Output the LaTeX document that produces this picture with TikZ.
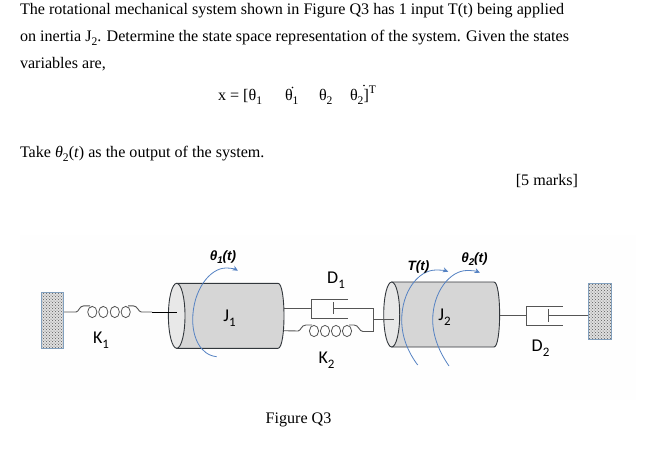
\documentclass[tikz,border=0pt]{standalone}
\usepackage{fontspec}
\setmainfont{Liberation Serif}
\newfontfamily\lblfont{Carlito}
\newfontfamily\symfont{Liberation Sans}
\usetikzlibrary{patterns,arrows.meta}
\definecolor{cylfill}{RGB}{214,214,214}
\definecolor{capfill}{RGB}{232,232,232}
\definecolor{cyledge}{RGB}{50,55,60}
\definecolor{wallblue}{RGB}{130,160,190}
\definecolor{arrowblue}{RGB}{85,130,195}
\definecolor{mech}{RGB}{85,85,85}
\definecolor{bgtint}{RGB}{254,254,254}
\newcommand{\sbs}[1]{\raisebox{-0.28em}{\scalebox{0.72}{#1}}}
\tikzset{
  body/.style={anchor=base west,inner sep=0pt,outer sep=0pt,font=\fontsize{16.1}{18}\selectfont},
  lbl/.style={inner sep=0pt,font=\lblfont\fontsize{18}{20}\selectfont},
  ang/.style={inner sep=0pt,font=\symfont\bfseries\itshape\fontsize{13.5}{15}\selectfont},
  wall/.style={draw=wallblue,line width=0.8pt,preaction={fill=gray!25},pattern=crosshatch dots,pattern color=black!65,minimum width=22.5pt,inner sep=0pt,anchor=north west},
  cyl/.style={draw=cyledge,line width=0.9pt,fill=cylfill},
  capend/.style={draw=cyledge,line width=0.9pt,fill=capfill},
  link/.style={draw=mech,line width=0.9pt},
  rot/.style={draw=arrowblue,line width=0.8pt,-{Stealth[length=5.5pt,width=5pt]}},
}
\begin{document}
\begin{tikzpicture}[x=1pt,y=-1pt]
\useasboundingbox (0,0) rectangle (669,448);
\fill[white] (0,0) rectangle (669,448);
\fill[bgtint] (20,235) rectangle (636,400);
% text
\node[body] (l1) at (20,14) {The rotational mechanical system shown in Figure Q3 has 1 input T(t) being applied};
\node[body] (l2) at (20,41) {on inertia J\sbs{2}. Determine the state space representation of the system. Given the states};
\node[body] (l3) at (20,68.5) {variables are,};
\node[body] (eqa) at (218,100) {x = [θ\sbs{1}};
\node[body] (eqb) at (285,100) {θ\sbs{1}};
\node[body] (eqc) at (319,100) {θ\sbs{2}};
\node[body] (eqd) at (350,100) {θ\sbs{2}]\raisebox{0.42em}{\scalebox{0.72}{T}}};
\fill[black] (292.5,87.5) circle[radius=0.85];
\fill[black] (364,85.5) circle[radius=0.85];
\node[body] (l4) at (20,157) {Take \textit{θ}\sbs{2}(\textit{t}) as the output of the system.};
\node[body,anchor=base east] (mk) at (578,185) {[5 marks]};
\node[body,anchor=base] (fig) at (298.5,423) {Figure Q3};
% walls
\node[wall,minimum height=56pt] (w1) at (40.7,292.3) {};
\node[wall,minimum height=56pt] (w2) at (588.3,283) {};
% cylinders
\path[cyl] (176.7,283.3) -- (278,283.3) .. controls (286,283.3) and (286,348.3) .. (278,348.3) -- (176.7,348.3) -- cycle;
\path[capend] (176.7,315.8) ellipse[x radius=8.3,y radius=32.5];
\path[cyl] (391.7,282) -- (494,282) .. controls (501.5,282) and (501.5,347) .. (494,347) -- (391.7,347) -- cycle;
\path[capend] (391.7,314.5) ellipse[x radius=8,y radius=32.5];
\coordinate (c1a) at (177,312);
\coordinate (c1b) at (284,308.3);
\coordinate (c1c) at (284,330.7);
\coordinate (c2a) at (394,319.3);
\coordinate (c2b) at (499.6,315.7);
% K1
\coordinate (s1a) at (76,312);
\coordinate (s1b) at (141.5,312);
\draw[link] (w1.east|-s1a) -- (s1a) .. controls (79,312) and (79,305.8) .. (84,305.8) -- (90,305.8);
\foreach \x in {92.3,103.3,114.8,125.7} \draw[mech,line width=0.8pt] (\x,312) ellipse[x radius=4.6,y radius=5.6];
\draw[link] (128,305.8) -- (133,305.8) .. controls (138,305.8) and (138,312) .. (s1b) -- (152,312);
\draw[black,line width=0.6pt] (152,312) -- (c1a);
% D1
\coordinate (d1j) at (373,308);
\draw[link] (c1b) -- (311.7,308.3);
\draw[link] (348,299) -- (311.7,299) -- (311.7,318.3) -- (348,318.3);
\draw[link] (333,302) -- (333,314);
\draw[link] (333,308) -- (d1j);
% K2
\coordinate (s2a) at (298,331);
\coordinate (s2b) at (363,331.5);
\coordinate (k2j) at (373,331.5);
\draw[link] (c1c) -- (s2a) .. controls (301,331) and (301,325) .. (306,325) -- (312,325);
\foreach \x in {314,325,336,347} \draw[mech,line width=0.8pt] (\x,331) ellipse[x radius=4.6,y radius=5.6];
\draw[link] (349,325) -- (354,325) .. controls (359,325) and (359,331.5) .. (s2b) -- (k2j);
\draw[link] (d1j) -- (k2j);
\draw[link] (373,319.3) -- (c2a);
% D2
\coordinate (d2a) at (526.7,315.7);
\draw[link] (c2b) -- (d2a);
\draw[link] (562.7,306.7) -- (526.7,306.7) -- (526.7,325.7) -- (562.7,325.7);
\draw[link] (548.3,309.3) -- (548.3,321.7);
\draw[link] (548.3,315.7) -- (w2.west|-d2a);
% rotation arrows
\coordinate (r1s) at (216.7,356.7); \coordinate (r1e) at (238,270.7);
\coordinate (r2s) at (417.7,365); \coordinate (r2e) at (448.3,271.7);
\coordinate (r3s) at (449,366); \coordinate (r3e) at (480,272.7);
\draw[rot] (r1s) .. controls (200,355) and (192.7,337) .. (192.7,320) .. controls (192.7,290) and (210,268) .. (226,268) .. controls (231,268) and (235,269) .. (r1e);
\draw[rot] (r2s) .. controls (408,352) and (401.7,337) .. (401.7,320) .. controls (401.7,292) and (418,270) .. (436,270) .. controls (441,270) and (445,270.5) .. (r2e);
\draw[rot] (r3s) .. controls (440,353) and (432.7,337) .. (432.7,320) .. controls (432.7,292) and (450,270.5) .. (467,270.5) .. controls (472,270.5) and (476,271) .. (r3e);
% labels
\node[ang] (th1) at (223,257) {θ\sbs{1}(t)};
\node[ang] (tt) at (418.5,267) {T(t)};
\node[ang] (th2) at (474.5,259) {θ\sbs{2}(t)};
\node[lbl] (j1) at (229.5,318) {J\sbs{1}};
\node[lbl] (j2) at (444.5,317) {J\sbs{2}};
\node[lbl] (k1) at (101,340) {K\sbs{1}};
\node[lbl] (k2) at (326.5,360) {K\sbs{2}};
\node[lbl] (d1) at (336,280) {D\sbs{1}};
\node[lbl] (d2) at (540.5,348) {D\sbs{2}};
\end{tikzpicture}
\end{document}
